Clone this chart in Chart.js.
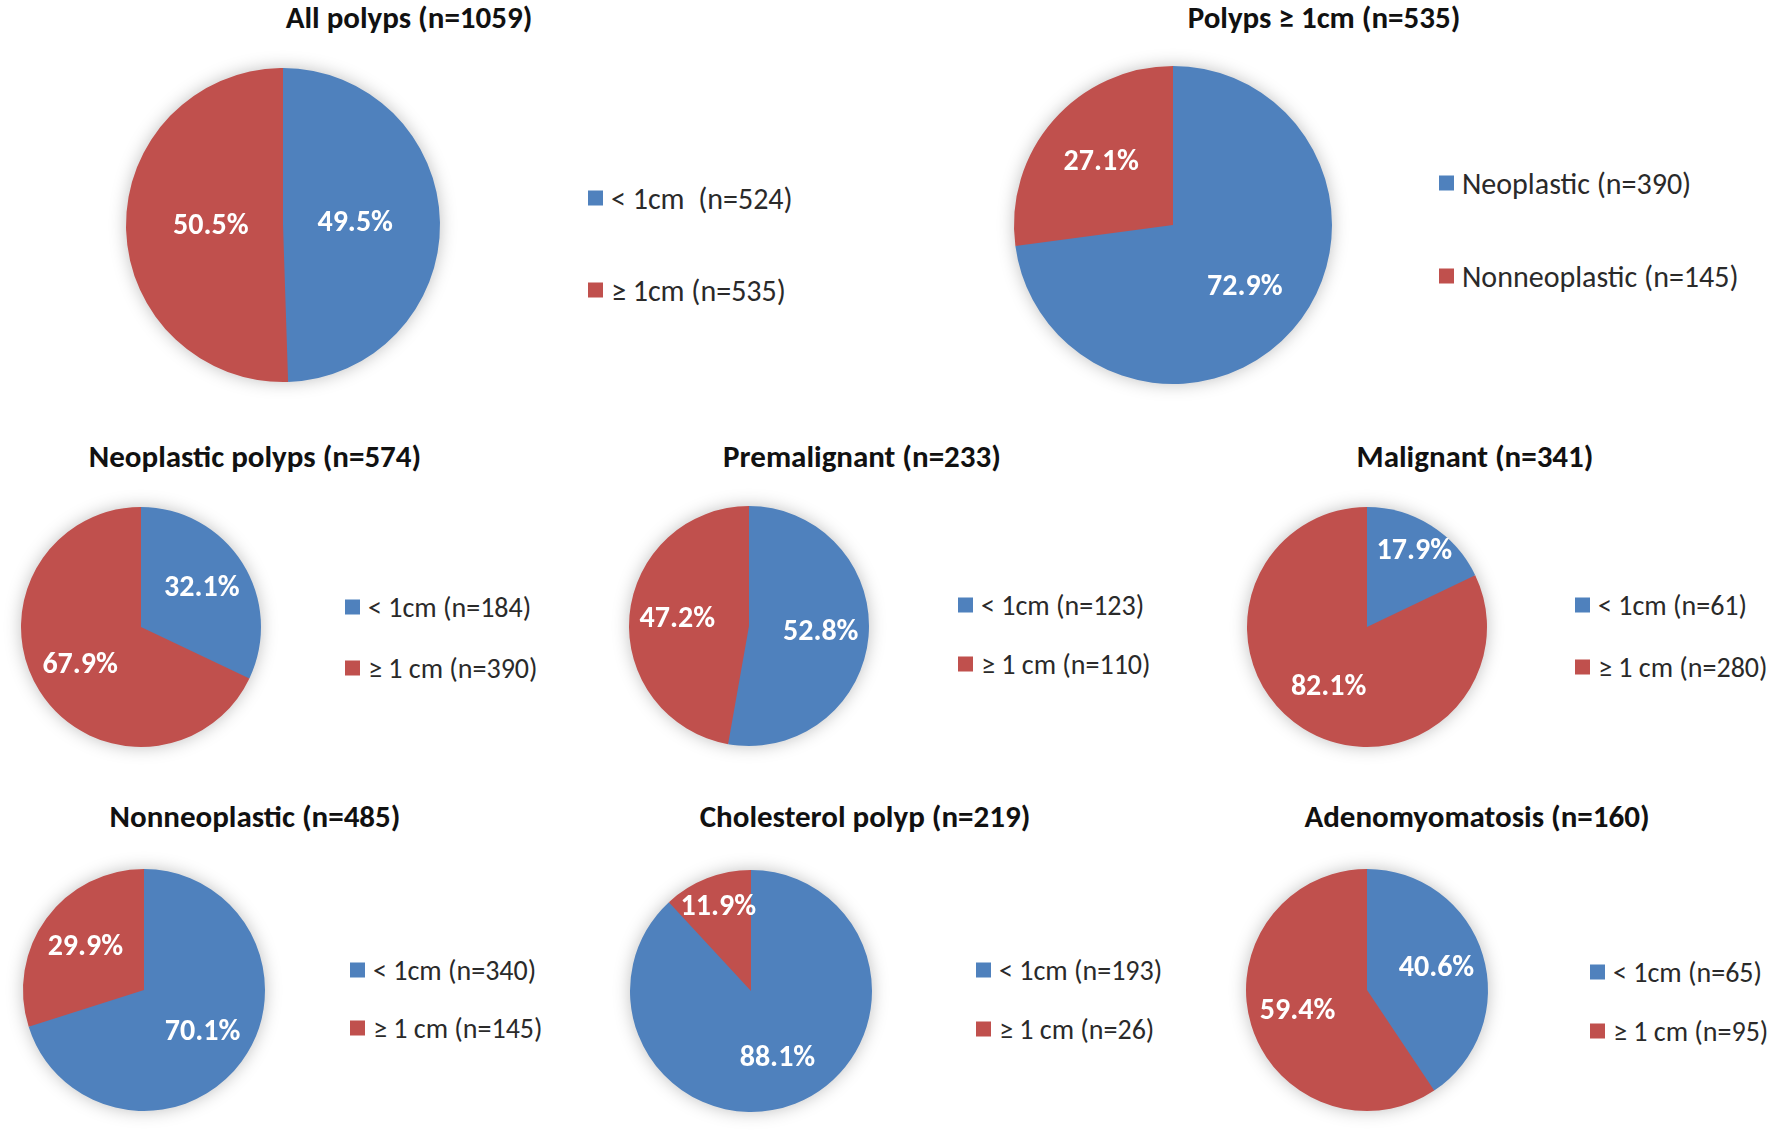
<!DOCTYPE html>
<html>
<head>
<meta charset="utf-8">
<script src="https://cdn.jsdelivr.net/npm/chart.js@4"></script>
<style>
    body { margin: 0; background: #fff; }
    #page { position: relative; width: 1772px; height: 1134px; overflow: hidden;
            font-family: Carlito, Lato, "Open Sans", sans-serif; }
    .title { position: absolute; transform: translate(-50%, -50%); white-space: pre;
             font-weight: bold; font-size: 31px; color: #111; }
    .legend-item { position: absolute; transform: translateY(-50%); white-space: pre;
                   color: #2a2a2a; display: flex; align-items: center; }
    .legend-item span.box { display: inline-block; width: 15px; height: 15px; margin-right: 8px; }
    canvas { position: absolute; }
</style>
</head>
<body>
<div id="page"></div>
<script>
// chart data
const titles = [
    "All polyps (n=1059)", "Polyps ≥ 1cm (n=535)",
    "Neoplastic polyps (n=574)", "Premalignant (n=233)", "Malignant (n=341)",
    "Nonneoplastic (n=485)", "Cholesterol polyp (n=219)", "Adenomyomatosis (n=160)"
];
const blueLabels = ["< 1cm  (n=524)", "Neoplastic (n=390)", "< 1cm (n=184)", "< 1cm (n=123)",
    "< 1cm (n=61)", "< 1cm (n=340)", "< 1cm (n=193)", "< 1cm (n=65)"];
const redLabels = ["≥ 1cm (n=535)", "Nonneoplastic (n=145)", "≥ 1 cm (n=390)", "≥ 1 cm (n=110)",
    "≥ 1 cm (n=280)", "≥ 1 cm (n=145)", "≥ 1 cm (n=26)", "≥ 1 cm (n=95)"];
const blueCounts = [524, 390, 184, 123, 61, 340, 193, 65];
const redCounts = [535, 145, 390, 110, 280, 145, 26, 95];

const BLUE = "#4F81BD";
const RED = "#C0504D";

// where each panel sits on the page
const layout = [
    { cx: 283, cy: 225, r: 157, tx: 409, ty: 17, lx: 588, ly: [198, 290], fs: 30 },
    { cx: 1173, cy: 225, r: 159, tx: 1324, ty: 17, lx: 1439, ly: [183, 276], fs: 30 },
    { cx: 141, cy: 627, r: 120, tx: 255, ty: 456, lx: 345, ly: [607, 668], fs: 28 },
    { cx: 749, cy: 626, r: 120, tx: 862, ty: 456, lx: 958, ly: [605, 664], fs: 28 },
    { cx: 1367, cy: 627, r: 120, tx: 1475, ty: 456, lx: 1575, ly: [605, 667], fs: 28 },
    { cx: 144, cy: 990, r: 121, tx: 255, ty: 816, lx: 350, ly: [970, 1028], fs: 28 },
    { cx: 751, cy: 991, r: 121, tx: 865, ty: 816, lx: 976, ly: [970, 1029], fs: 28 },
    { cx: 1367, cy: 990, r: 121, tx: 1477, ty: 816, lx: 1590, ly: [972, 1031], fs: 28 }
];

const PAD = 24;

// soft glow under the whole pie
const shadowPlugin = {
    id: "pieShadow",
    beforeDatasetsDraw(chart) {
        const arc = chart.getDatasetMeta(0).data[0];
        if (!arc) return;
        const { x, y, outerRadius } = arc.getProps(["x", "y", "outerRadius"], true);
        const ctx = chart.ctx;
        ctx.save();
        ctx.shadowColor = "rgba(0,0,0,0.28)";
        ctx.shadowBlur = 18;
        ctx.beginPath();
        ctx.arc(x, y, outerRadius - 1, 0, Math.PI * 2);
        ctx.fillStyle = BLUE;
        ctx.fill();
        ctx.restore();
    }
};

// percent labels inside slices
const percentPlugin = {
    id: "percentLabels",
    afterDatasetsDraw(chart) {
        const ctx = chart.ctx;
        const values = chart.data.datasets[0].data;
        const total = values.reduce((a, b) => a + b, 0);
        chart.getDatasetMeta(0).data.forEach((arc, i) => {
            const p = arc.getProps(["x", "y", "startAngle", "endAngle", "outerRadius"], true);
            const frac = values[i] / total;
            const mid = (p.startAngle + p.endAngle) / 2;
            let f = frac < 0.2 ? 0.74 : 0.6;
            if (Math.abs(frac - 0.5) < 0.02) f = 0.46;
            const x = p.x + Math.cos(mid) * p.outerRadius * f;
            const y = p.y + Math.sin(mid) * p.outerRadius * f;
            ctx.save();
            ctx.fillStyle = "#fff";
            ctx.font = "bold 30px Carlito, Lato, sans-serif";
            ctx.textAlign = "center";
            ctx.textBaseline = "middle";
            ctx.fillText((frac * 100).toFixed(1) + "%", x, y);
            ctx.restore();
        });
    }
};

const page = document.getElementById("page");

function addLegendItem(x, y, color, text, fs) {
    const item = document.createElement("div");
    item.className = "legend-item";
    item.style.left = x + "px";
    item.style.top = y + "px";
    item.style.fontSize = fs + "px";
    const box = document.createElement("span");
    box.className = "box";
    box.style.background = color;
    item.appendChild(box);
    item.appendChild(document.createTextNode(text));
    page.appendChild(item);
}

titles.forEach((title, i) => {
    const pos = layout[i];

    const t = document.createElement("div");
    t.className = "title";
    t.style.left = pos.tx + "px";
    t.style.top = pos.ty + "px";
    t.textContent = title;
    page.appendChild(t);

    const size = pos.r * 2 + PAD * 2;
    const canvas = document.createElement("canvas");
    canvas.width = size;
    canvas.height = size;
    canvas.style.left = (pos.cx - pos.r - PAD) + "px";
    canvas.style.top = (pos.cy - pos.r - PAD) + "px";
    page.appendChild(canvas);

    new Chart(canvas, {
        type: "pie",
        data: {
            labels: [blueLabels[i], redLabels[i]],
            datasets: [{
                data: [blueCounts[i], redCounts[i]],
                backgroundColor: [BLUE, RED],
                borderWidth: 0
            }]
        },
        options: {
            responsive: false,
            animation: false,
            layout: { padding: PAD },
            plugins: {
                legend: { display: false },
                tooltip: { enabled: false }
            }
        },
        plugins: [shadowPlugin, percentPlugin]
    });

    addLegendItem(pos.lx, pos.ly[0], BLUE, blueLabels[i], pos.fs);
    addLegendItem(pos.lx, pos.ly[1], RED, redLabels[i], pos.fs);
});
</script>
</body>
</html>
